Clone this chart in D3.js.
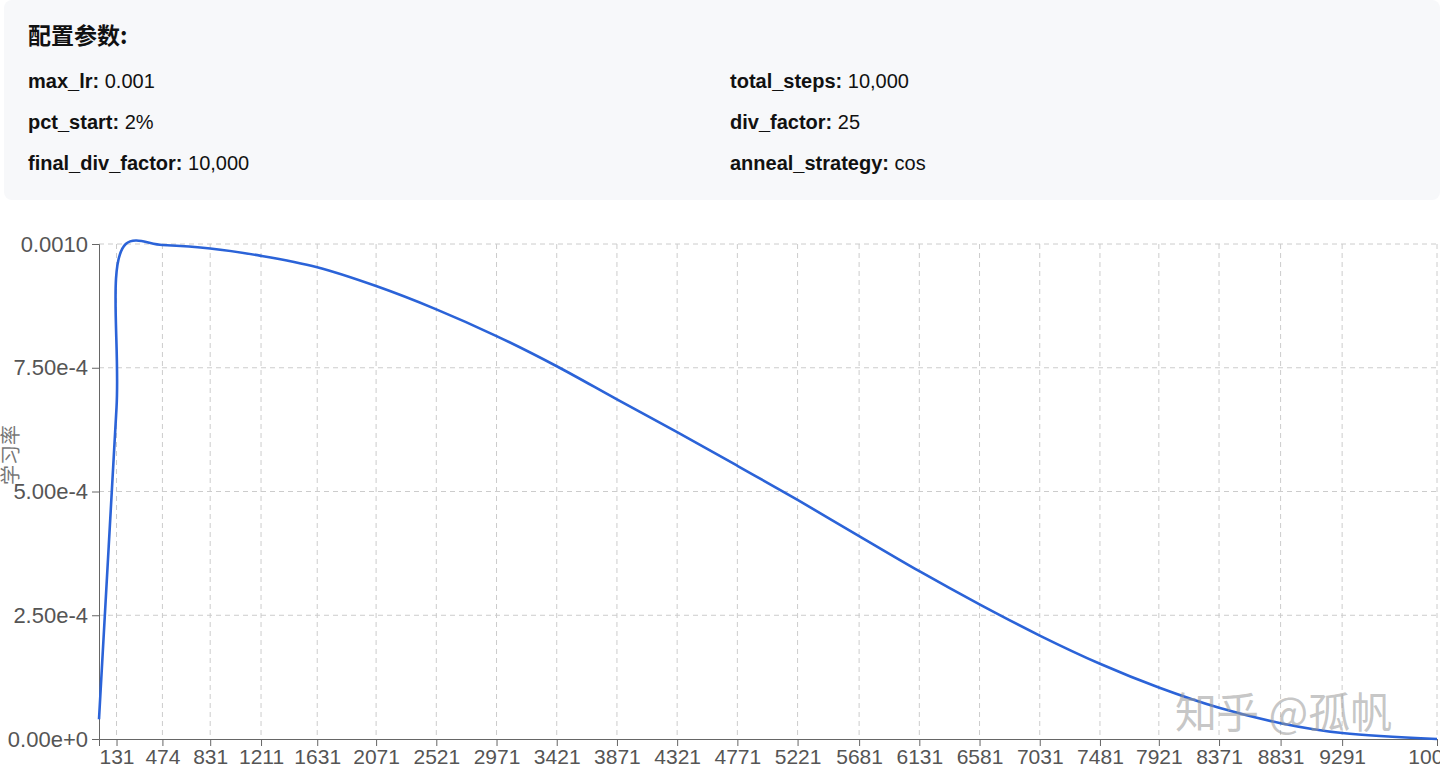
<!DOCTYPE html>
<html>
<head>
<meta charset="utf-8">
<script src="https://cdn.jsdelivr.net/npm/d3@7"></script>
<style>
  body { margin: 0; background: #fff; font-family: "Liberation Sans", Arial, "Noto Sans CJK SC", sans-serif; overflow: hidden; }
  .config { position: absolute; left: 4px; top: 0; width: 1436px; height: 200px; background: #f7f8fa; border-radius: 8px; }
  .config h3 { position: absolute; left: 24px; top: 18px; margin: 0; font-size: 23px; font-weight: bold; color: #111; font-family: "Noto Sans CJK SC", sans-serif; line-height: 32px; }
  .item { position: absolute; font-size: 20px; color: #111; }
  .item b { font-weight: bold; }
  svg { position: absolute; left: 0; top: 0; }
</style>
</head>
<body>
<div class="config" id="config"><h3>配置参数:</h3></div>
<svg id="chart" width="1440" height="772"></svg>
<script>
// config parameters
const configItems = [
  ["max_lr", "0.001"], ["total_steps", "10,000"],
  ["pct_start", "2%"], ["div_factor", "25"],
  ["final_div_factor", "10,000"], ["anneal_strategy", "cos"]
];

// learning-rate curve (steps)
const steps = [0, 131, 200, 474, 831, 1211, 1631, 2071, 2521, 2971, 3421, 3871, 4321,
  4771, 5221, 5681, 6131, 6581, 7031, 7481, 7921, 8371, 8831, 9291, 10000];
const lrValues = [0.00004, 0.00067, 0.001, 0.000998, 0.000991, 0.000976, 0.000953, 0.000915,
  0.000868, 0.000814, 0.000753, 0.000686, 0.00062, 0.000552, 0.000483, 0.00041, 0.000339,
  0.000272, 0.000209, 0.000152, 0.000104, 0.000063, 0.000032, 0.000012, 0.0000001];

const xTicks = [131, 474, 831, 1211, 1631, 2071, 2521, 2971, 3421, 3871, 4321, 4771, 5221,
  5681, 6131, 6581, 7031, 7481, 7921, 8371, 8831, 9291, 10000];
const yTicks = [0, 0.00025, 0.0005, 0.00075, 0.001];
const yTickLabels = ["0.00e+0", "2.50e-4", "5.00e-4", "7.50e-4", "0.0010"];

// config panel
const panel = d3.select("#config");
configItems.forEach(([k, v], i) => {
  panel.append("div").attr("class", "item")
    .style("left", (i % 2 === 0 ? 24 : 726) + "px")
    .style("top", (70 + Math.floor(i / 2) * 41) + "px")
    .html(`<b>${k}:</b> ${v}`);
});

const svg = d3.select("#chart");
const x = d3.scaleLinear().domain([0, 10000]).range([99, 1437]);
const y = d3.scaleLinear().domain([0, 0.001]).range([739, 244]);

// grid
svg.append("g").selectAll("line").data(xTicks).enter().append("line")
  .attr("x1", d => x(d)).attr("x2", d => x(d)).attr("y1", 244).attr("y2", 739)
  .attr("stroke", "#ccc").attr("stroke-dasharray", "5,4");
svg.append("g").selectAll("line").data(yTicks.slice(1)).enter().append("line")
  .attr("x1", 99).attr("x2", 1437).attr("y1", d => y(d)).attr("y2", d => y(d))
  .attr("stroke", "#ccc").attr("stroke-dasharray", "5,4");

// axes
const xAxis = svg.append("g").attr("transform", "translate(0,739)")
  .call(d3.axisBottom(x).tickValues(xTicks).tickFormat(d => d).tickSizeOuter(0).tickSize(7).tickPadding(3));
const yAxis = svg.append("g").attr("transform", "translate(99,0)")
  .call(d3.axisLeft(y).tickValues(yTicks).tickFormat((d, i) => yTickLabels[i]).tickSize(7).tickSizeOuter(7).tickPadding(4));
[xAxis, yAxis].forEach(a => {
  a.selectAll("path, line").attr("stroke", "#666");
  a.selectAll("text").attr("fill", "#555").style("font-size", "22px")
    .style("font-family", "'Liberation Sans', Arial, sans-serif");
});
xAxis.selectAll("text").style("font-size", "21px");

// axis title
svg.append("text").attr("transform", "translate(18,455) rotate(-90)")
  .attr("text-anchor", "middle").attr("fill", "#777").style("font-size", "20px")
  .style("font-family", "'Noto Sans CJK SC', sans-serif").text("学习率");

// curve
svg.append("path").datum(steps.map((s, i) => [s, lrValues[i]]))
  .attr("fill", "none").attr("stroke", "#2b63d8").attr("stroke-width", 2.6)
  .attr("d", d3.line().x(d => x(d[0])).y(d => y(d[1])).curve(d3.curveCatmullRom));

// watermark
svg.append("text").attr("x", 1175).attr("y", 728).attr("fill", "rgba(150,150,150,0.55)")
  .style("font-size", "42px").style("font-family", "'Noto Sans CJK SC', sans-serif")
  .text("知乎 @孤帆");
</script>
</body>
</html>
